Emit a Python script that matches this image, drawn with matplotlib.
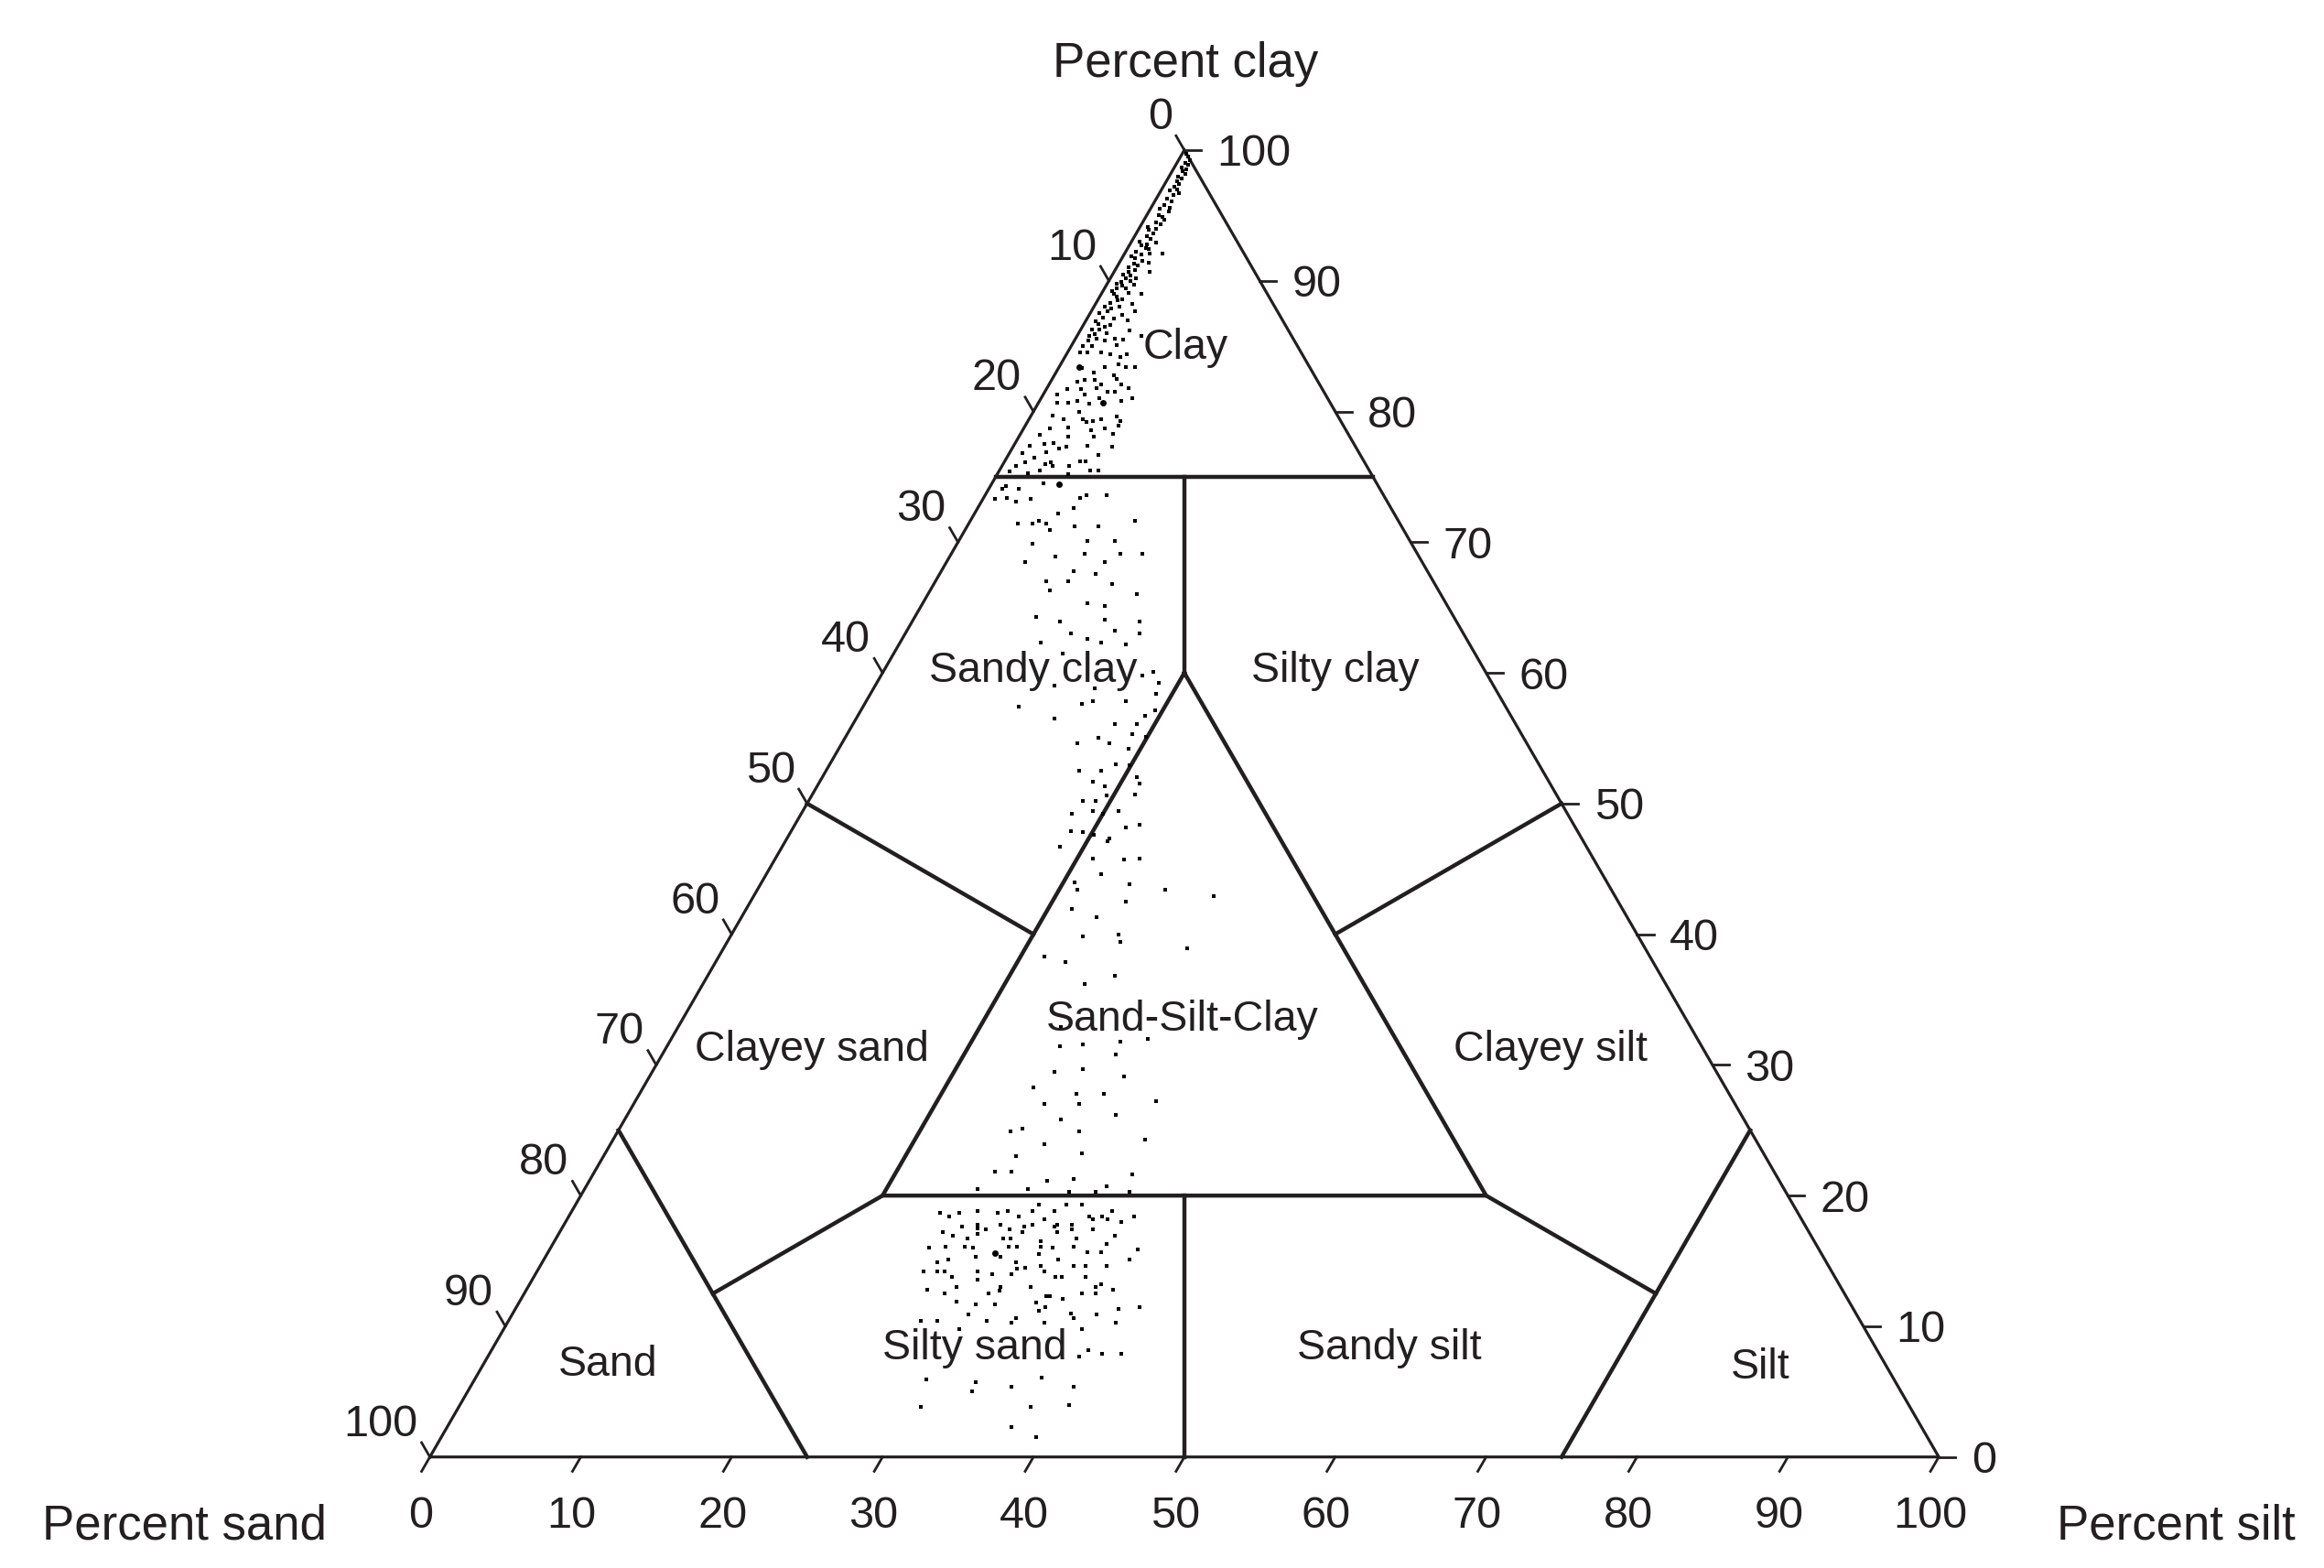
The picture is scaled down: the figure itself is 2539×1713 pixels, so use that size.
import numpy as np
import matplotlib
matplotlib.use('Agg')
import matplotlib.pyplot as plt

plt.rcParams['font.family'] = ['Liberation Sans', 'DejaVu Sans']

INK = '#231f20'
H = np.sqrt(3) / 2

ticks = [0, 10, 20, 30, 40, 50, 60, 70, 80, 90, 100]

# sample compositions: (percent clay, percent silt)
clay_zone = [
    (99.7, 0.3), (99.5, 0.5), (99.2, 0.75), (98.9, 0.82), (98.7, 0.5), (98.5, 0.9), (98.2, 0.97),
    (98.0, 0.6), (97.8, 0.95), (97.6, 0.7), (97.4, 0.97), (97.0, 1.04), (96.9, 0.6), (96.6, 0.98),
    (96.3, 0.7), (96.1, 1.11), (95.8, 0.8), (95.6, 1.25), (95.3, 1.32), (95.0, 0.8), (94.7, 1.3),
    (94.5, 0.9), (94.3, 1.28), (94.0, 1.15), (93.9, 0.7), (93.6, 1.12), (93.4, 0.8), (93.2, 1.15),
    (92.9, 1.68), (92.8, 1.13), (92.7, 0.8), (92.5, 1.2), (92.2, 0.7), (92.1, 2.49), (92.1, 1.68),
    (92.0, 1.13), (91.7, 0.9), (91.5, 1.47), (91.4, 1.93), (91.2, 1.33), (91.0, 0.8), (90.8, 1.31),
    (90.7, 0.97), (90.7, 2.38), (90.5, 0.7), (90.2, 1.0), (90.2, 1.7), (90.0, 1.42), (89.9, 0.87),
    (89.8, 0.6), (89.7, 1.79), (89.4, 0.8), (89.4, 1.41), (89.2, 0.6), (89.1, 1.78), (89.0, 2.65),
    (89.0, 0.83), (88.8, 1.1), (88.6, 1.61), (88.3, 0.97), (88.2, 2.45), (88.0, 1.7), (88.0, 0.7),
    (87.7, 2.88), (87.7, 1.06), (87.5, 0.6), (87.4, 2.19), (87.2, 1.0), (87.1, 1.77), (87.0, 2.73),
    (86.9, 0.7), (86.7, 0.93), (86.6, 1.79), (86.3, 0.75), (86.3, 1.2), (86.2, 3.24), (86.0, 1.88),
    (85.8, 4.23), (85.8, 0.8), (85.6, 1.41), (85.6, 2.62), (85.5, 3.18), (85.4, 0.92), (85.4, 2.03),
    (85.1, 2.96), (85.0, 0.79), (85.0, 1.4),
    (99.0, 0.55), (98.4, 0.7), (97.2, 0.75), (96.7, 1.3), (95.5, 0.6), (94.9, 1.1), (94.1, 0.5),
    (93.0, 0.55), (92.4, 1.45), (91.9, 0.55), (91.3, 1.05), (90.4, 1.25), (89.6, 1.1), (88.5, 1.3),
    (87.9, 1.2), (86.5, 1.45), (85.9, 1.1),
    (84.5, 0.83), (84.5, 1.33), (84.5, 2.24), (84.4, 2.9), (84.2, 3.63), (84.4, 4.01), (83.3, 1.57),
    (83.0, 2.49), (83.4, 3.03), (83.6, 3.82), (83.4, 4.44), (83.4, 5.05), (82.8, 3.92), (82.5, 4.24),
    (82.3, 1.73), (82.4, 2.18), (82.4, 2.89), (82.1, 3.46), (82.1, 4.78), (81.8, 5.4), (81.7, 1.42),
    (81.7, 2.33), (81.8, 3.28), (81.5, 4.16), (81.5, 4.66), (81.3, 0.94), (81.3, 2.76), (81.0, 3.89),
    (80.8, 5.42), (81.0, 6.02), (80.7, 1.23), (80.7, 1.94), (80.8, 2.49), (80.0, 3.0), (80.6, 3.42),
    (79.7, 1.4), (79.4, 2.28), (79.4, 3.59), (79.2, 3.91), (79.3, 4.26), (79.4, 4.8), (79.6, 5.7),
    (79.3, 6.08), (78.9, 6.16), (78.7, 1.72), (78.8, 2.88), (78.6, 4.51), (78.7, 5.36), (78.3, 6.14),
    (78.2, 1.35), (78.1, 3.23), (78.1, 4.95), (77.4, 1.05), (77.5, 2.0), (77.6, 2.55), (77.2, 3.08),
    (77.3, 3.53), (77.4, 4.89), (77.3, 6.56), (76.8, 0.84), (76.5, 1.82), (76.9, 2.39), (76.1, 1.39),
    (76.0, 2.76), (76.1, 3.11), (76.2, 4.97), (76.2, 5.37), (76.7, 5.95), (75.8, 0.95), (75.3, 2.0),
    (75.5, 2.69), (75.8, 3.38), (75.8, 4.49), (75.2, 4.69), (75.5, 6.03), (75.5, 6.53), (75.4, 0.73),
]

sandy_clay_zone = [
    (74.1, 0.86), (74.3, 1.01), (74.1, 1.97), (74.5, 3.42),
    (73.3, 0.77), (73.4, 1.52), (73.1, 2.29), (73.3, 3.19), (73.4, 6.37), (73.6, 6.71), (73.6, 8.03),
    (72.6, 6.37), (72.2, 5.55), (71.4, 3.24), (71.4, 4.25), (71.6, 4.57), (71.4, 5.15), (70.9, 5.61),
    (71.2, 7.1), (71.2, 8.72), (71.6, 10.94), (69.9, 4.98), (70.1, 8.52), (70.1, 10.34), (68.5, 5.21),
    (68.9, 6.98), (69.1, 8.85), (69.1, 11.24), (69.1, 12.69), (68.5, 10.46), (67.8, 8.76),
    (67.6, 10.3), (67.0, 7.37), (66.3, 7.91), (67.0, 8.83), (66.8, 11.81), (66.0, 13.84),
    (65.3, 10.93), (65.1, 12.17), (64.3, 8.02), (63.9, 9.83), (64.1, 12.68), (63.9, 15.09),
    (63.2, 13.8), (63.0, 15.53), (63.0, 10.98), (62.6, 12.3), (62.3, 13.32), (62.2, 15.02),
    (62.3, 9.32), (61.5, 11.21), (59.8, 17.31), (60.1, 17.89), (59.2, 18.68), (58.4, 18.91),
    (59.0, 11.92), (58.8, 14.67), (57.4, 10.35), (57.6, 14.41), (57.8, 15.06), (57.8, 17.24),
    (56.5, 13.17), (56.1, 17.35), (56.1, 18.83), (56.7, 19.06), (57.1, 19.53),
]

mixed_zone = [
    (55.3, 18.89), (55.0, 16.79), (54.6, 15.59), (54.6, 17.75), (54.2, 19.22), (55.1, 19.89),
    (52.5, 16.78), (52.5, 18.24), (53.0, 18.94), (52.9, 19.92), (51.7, 18.1), (51.3, 19.06),
    (50.6, 19.56), (52.0, 20.85), (51.5, 21.29), (50.7, 21.37), (50.2, 18.15), (50.2, 19.04),
    (49.2, 17.93), (49.4, 19.27), (49.4, 20.93), (49.2, 20.01), (47.9, 18.56), (47.8, 19.37),
    (48.2, 22.05), (48.4, 22.85), (47.6, 20.18), (46.7, 18.43), (47.1, 21.36), (47.3, 21.4),
    (45.8, 21.04), (45.7, 23.13), (45.8, 24.12), (44.6, 22.21), (44.0, 20.7), (43.4, 21.21),
    (43.8, 24.44), (43.4, 27.01), (42.9, 30.49), (41.9, 21.59), (42.5, 24.88), (41.3, 23.51),
    (39.8, 23.37), (40.0, 25.62), (39.4, 26.09), (38.9, 30.71), (38.3, 21.56), (37.9, 23.19),
    (36.8, 27.01), (36.2, 25.32),
    (32.9, 25.35), (31.4, 26.08), (31.6, 27.46), (31.8, 29.86), (32.0, 31.56), (30.8, 30.03),
    (29.5, 26.67), (29.7, 28.4), (29.1, 31.44), (28.3, 25.85), (27.8, 28.93), (27.8, 30.75),
    (27.0, 27.2), (27.0, 29.54), (27.2, 34.55), (26.2, 32.35), (25.8, 28.9), (24.9, 26.05),
    (25.1, 26.7), (24.9, 30.59), (24.3, 35.26), (23.9, 28.78), (23.0, 27.37), (23.2, 31.64),
    (21.8, 26.54), (21.8, 27.62), (21.6, 35.73), (21.1, 30.34), (21.3, 32.03),
]

silty_sand_zone = [
    (20.5, 26.07), (20.5, 29.36), (20.3, 32.2), (20.3, 34.0), (20.7, 34.51), (20.3, 36.19),
    (19.3, 30.72), (19.3, 32.54), (19.3, 33.59), (18.7, 24.45), (18.4, 25.21), (18.7, 25.76),
    (18.8, 26.89), (18.7, 28.29), (18.8, 28.91), (18.4, 29.82), (18.8, 30.53), (18.2, 31.6),
    (18.8, 32.0), (18.4, 34.51), (18.2, 34.83), (18.4, 35.32), (18.2, 35.84), (18.8, 35.84),
    (18.0, 36.8), (18.4, 37.5), (17.2, 25.4), (16.9, 26.23), (17.6, 26.45), (16.7, 27.27),
    (17.8, 27.41), (17.5, 27.56), (17.1, 27.76), (17.4, 28.16), (17.8, 28.92), (17.4, 29.7),
    (16.7, 29.62), (16.7, 30.16), (17.2, 30.66), (17.6, 30.61), (17.8, 31.05), (16.5, 32.23),
    (17.6, 32.61), (17.8, 32.66), (17.2, 32.98), (17.8, 33.62), (17.4, 33.83), (16.7, 34.51),
    (17.4, 35.24), (16.9, 36.95), (16.0, 25.1), (16.1, 26.13), (16.1, 27.39), (16.0, 27.99),
    (15.3, 30.18), (15.3, 28.53), (16.1, 30.28), (16.1, 30.83), (16.1, 32.44), (16.0, 33.29),
    (16.1, 34.63), (15.7, 35.74), (15.7, 36.65), (16.3, 36.72), (15.9, 38.95), (14.9, 26.19),
    (15.1, 26.83), (14.9, 31.41), (14.5, 32.21), (14.4, 31.71), (15.5, 32.62), (14.6, 33.18),
    (15.1, 34.11), (14.6, 35.37), (14.6, 36.14), (14.6, 37.55), (15.1, 38.8), (14.2, 25.61),
    (14.2, 26.5), (14.2, 27.02), (13.8, 27.67), (14.2, 29.19), (13.6, 29.51), (14.0, 30.26),
    (14.0, 31.53), (14.2, 33.62), (13.8, 34.54), (13.8, 34.95), (13.8, 36.57), (12.8, 26.55),
    (12.5, 27.88), (13.0, 28.42), (12.5, 30.76), (13.0, 31.31), (12.7, 31.42), (13.0, 33.3),
    (12.3, 34.71), (12.3, 34.91), (12.1, 35.9), (12.5, 36.98), (13.0, 37.63), (13.2, 37.91),
    (12.5, 37.87), (12.8, 38.88), (11.9, 28.94), (11.7, 30.31), (11.7, 31.6), (11.8, 34.26),
    (11.2, 34.75), (11.5, 35.01), (11.3, 39.98), (11.5, 41.27), (10.9, 30.22), (10.4, 31.7),
    (10.3, 33.4), (10.6, 33.57), (10.3, 35.57), (11.0, 37.0), (10.6, 37.37), (10.9, 38.71),
    (10.3, 40.28), (10.4, 27.32), (10.4, 28.41), (9.8, 30.19), (9.8, 38.34),
    (7.7, 39.2), (8.2, 39.52), (7.9, 40.58), (7.9, 41.85), (5.9, 29.94), (5.7, 33.34),
    (5.0, 33.46), (5.4, 35.82), (6.1, 37.47), (5.4, 39.97), (3.8, 30.65), (3.8, 37.91),
    (4.0, 40.34), (2.3, 37.4), (1.5, 39.43),
]

heavy_samples = [(83.4, 1.31), (80.7, 4.26), (74.4, 4.48), (15.6, 29.64)]

# Shepard class boundaries as (sand, silt, clay)
boundaries = [
    [(25, 0, 75), (0, 25, 75)],
    [(12.5, 12.5, 75), (20, 20, 60)],
    [(20, 20, 60), (60, 20, 20), (20, 60, 20), (20, 20, 60)],
    [(50, 0, 50), (40, 20, 40)],
    [(0, 50, 50), (20, 40, 40)],
    [(75, 0, 25), (75, 25, 0)],
    [(75, 12.5, 12.5), (60, 20, 20)],
    [(40, 40, 20), (50, 50, 0)],
    [(12.5, 75, 12.5), (20, 60, 20)],
    [(25, 75, 0), (0, 75, 25)],
]

class_names = ['Clay', 'Sandy clay', 'Silty clay', 'Clayey sand', 'Sand-Silt-Clay',
               'Clayey silt', 'Sand', 'Silty sand', 'Sandy silt', 'Silt']
class_label_xy = [(50.1, 73.8), (40.0, 52.4), (60.0, 52.4), (25.3, 27.3), (49.9, 29.3),
                  (74.3, 27.3), (11.8, 6.4), (36.1, 7.5), (63.6, 7.5), (88.2, 6.2)]

DY = -0.3  # nudge for text vertical centring


def to_xy(silt, clay):
    silt = np.asarray(silt, dtype=float)
    clay = np.asarray(clay, dtype=float)
    return silt + clay / 2, clay * H


fig = plt.figure(figsize=(25.39, 17.13), dpi=100)
ax = fig.add_axes([0, 0, 1, 1])
ax.set_xlim(-28.49, 125.53)
ax.set_ylim(-7.358, 96.55)
ax.axis('off')

# outline
ox, oy = to_xy([0, 100, 0, 0], [0, 0, 100, 0])
ax.plot(ox, oy, color=INK, lw=2.3, solid_joinstyle='miter', zorder=3)

for seg in boundaries:
    bx, by = to_xy([p[1] for p in seg], [p[2] for p in seg])
    ax.plot(bx, by, color=INK, lw=3.2, solid_joinstyle='miter', zorder=3)

# ticks and tick labels
L = 1.1
for v in ticks:
    # silt along the bottom
    x, y = to_xy(v, 0)
    ax.plot([x, x - 0.5 * L], [y, y - H * L], color=INK, lw=2.0, clip_on=False)
    ax.text(x - 0.59, y - 3.63 + DY, str(v), ha='center', va='center', fontsize=35, color=INK)
    # sand along the left edge
    x, y = to_xy(0, 100 - v)
    ax.plot([x, x - 0.5 * L], [y, y + H * L], color=INK, lw=2.0, clip_on=False)
    ax.text(x - 0.79, y + 2.46 + DY, str(v), ha='right', va='center', fontsize=35, color=INK)
    # clay along the right edge
    x, y = to_xy(100 - v, v)
    ax.plot([x, x + L], [y, y], color=INK, lw=2.0, clip_on=False)
    ax.text(x + 2.16, y + DY, str(v), ha='left', va='center', fontsize=35, color=INK)

# samples
for zone in [clay_zone, sandy_clay_zone, mixed_zone, silty_sand_zone]:
    zc = [p[0] for p in zone]
    zs = [p[1] for p in zone]
    px, py = to_xy(zs, zc)
    ax.plot(px, py, 's', ms=2.7, mew=0, color='black', zorder=4)
hx, hy = to_xy([p[1] for p in heavy_samples], [p[0] for p in heavy_samples])
ax.plot(hx, hy, 'o', ms=5, mew=0, color='black', zorder=4)

for name, (lx, ly) in zip(class_names, class_label_xy):
    ax.text(lx, ly + DY, name, ha='center', va='center', fontsize=33.5, color=INK, zorder=5)

ax.text(50.1, 92.6 + DY, 'Percent clay', ha='center', va='center', fontsize=38, color=INK)
ax.text(-16.3, -4.32 + DY, 'Percent sand', ha='center', va='center', fontsize=38, color=INK)
ax.text(115.7, -4.32 + DY, 'Percent silt', ha='center', va='center', fontsize=38, color=INK)

fig.savefig('out.png', dpi=100, facecolor='white')
